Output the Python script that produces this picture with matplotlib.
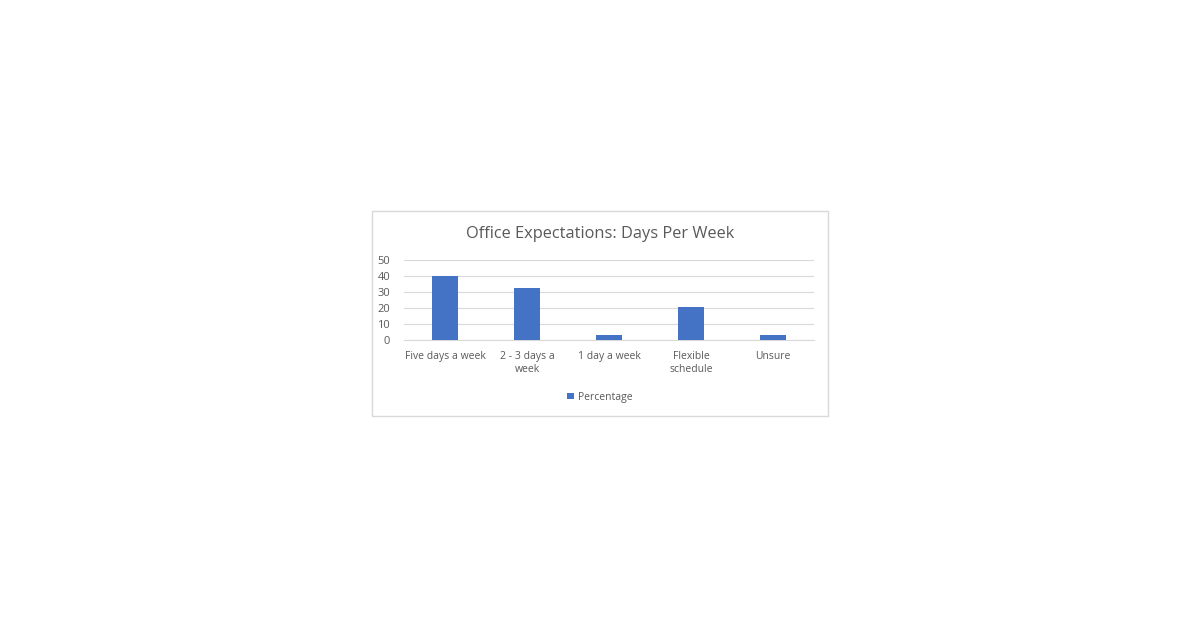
import numpy as np
import matplotlib.pyplot as plt
from matplotlib.patches import Rectangle

plt.rcParams['font.family'] = ['Open Sans', 'DejaVu Sans']

categories = ['Five days a week', '2 - 3 days a\nweek', '1 day a week', 'Flexible\nschedule', 'Unsure']
percentage = [40, 33, 3, 21, 3]
yticks = [0, 10, 20, 30, 40, 50]

bar_color = '#4472C4'
text_color = '#595959'
grid_color = '#D9D9D9'

fig = plt.figure(figsize=(12, 6.27), dpi=100)

# chart border
fig.patches.append(Rectangle((0.31, 0.3365), 0.38, 0.327, transform=fig.transFigure,
                             fill=False, edgecolor=grid_color, linewidth=1))

ax = fig.add_axes([0.3367, 0.4573, 0.3416, 0.1275])
x = np.arange(len(categories))
ax.bar(x, percentage, width=0.32, color=bar_color, label='Percentage', zorder=3)

ax.set_xlim(-0.5, len(categories) - 0.5)
ax.set_ylim(0, 50)
ax.set_yticks(yticks)
ax.set_xticks(x)
ax.set_xticklabels(categories, fontsize=7.5, color=text_color, linespacing=1.25)
ax.tick_params(axis='y', labelsize=8, labelcolor=text_color, length=0, pad=10)
ax.tick_params(axis='x', length=0, pad=8)
ax.grid(axis='y', color=grid_color, linewidth=0.8, zorder=0)
for s in ['top', 'right', 'left']:
    ax.spines[s].set_visible(False)
ax.spines['bottom'].set_color(grid_color)
ax.spines['bottom'].set_linewidth(0.8)

fig.text(0.5, 0.6273, 'Office Expectations: Days Per Week', ha='center', va='center',
         fontsize=11.8, color=text_color)

fig.legend(loc='center', bbox_to_anchor=(0.5, 0.3668), frameon=False, fontsize=7.5,
           labelcolor=text_color, handlelength=0.6, handleheight=0.6, handletextpad=0.4)

fig.savefig('out.png', dpi=100, facecolor='white')
